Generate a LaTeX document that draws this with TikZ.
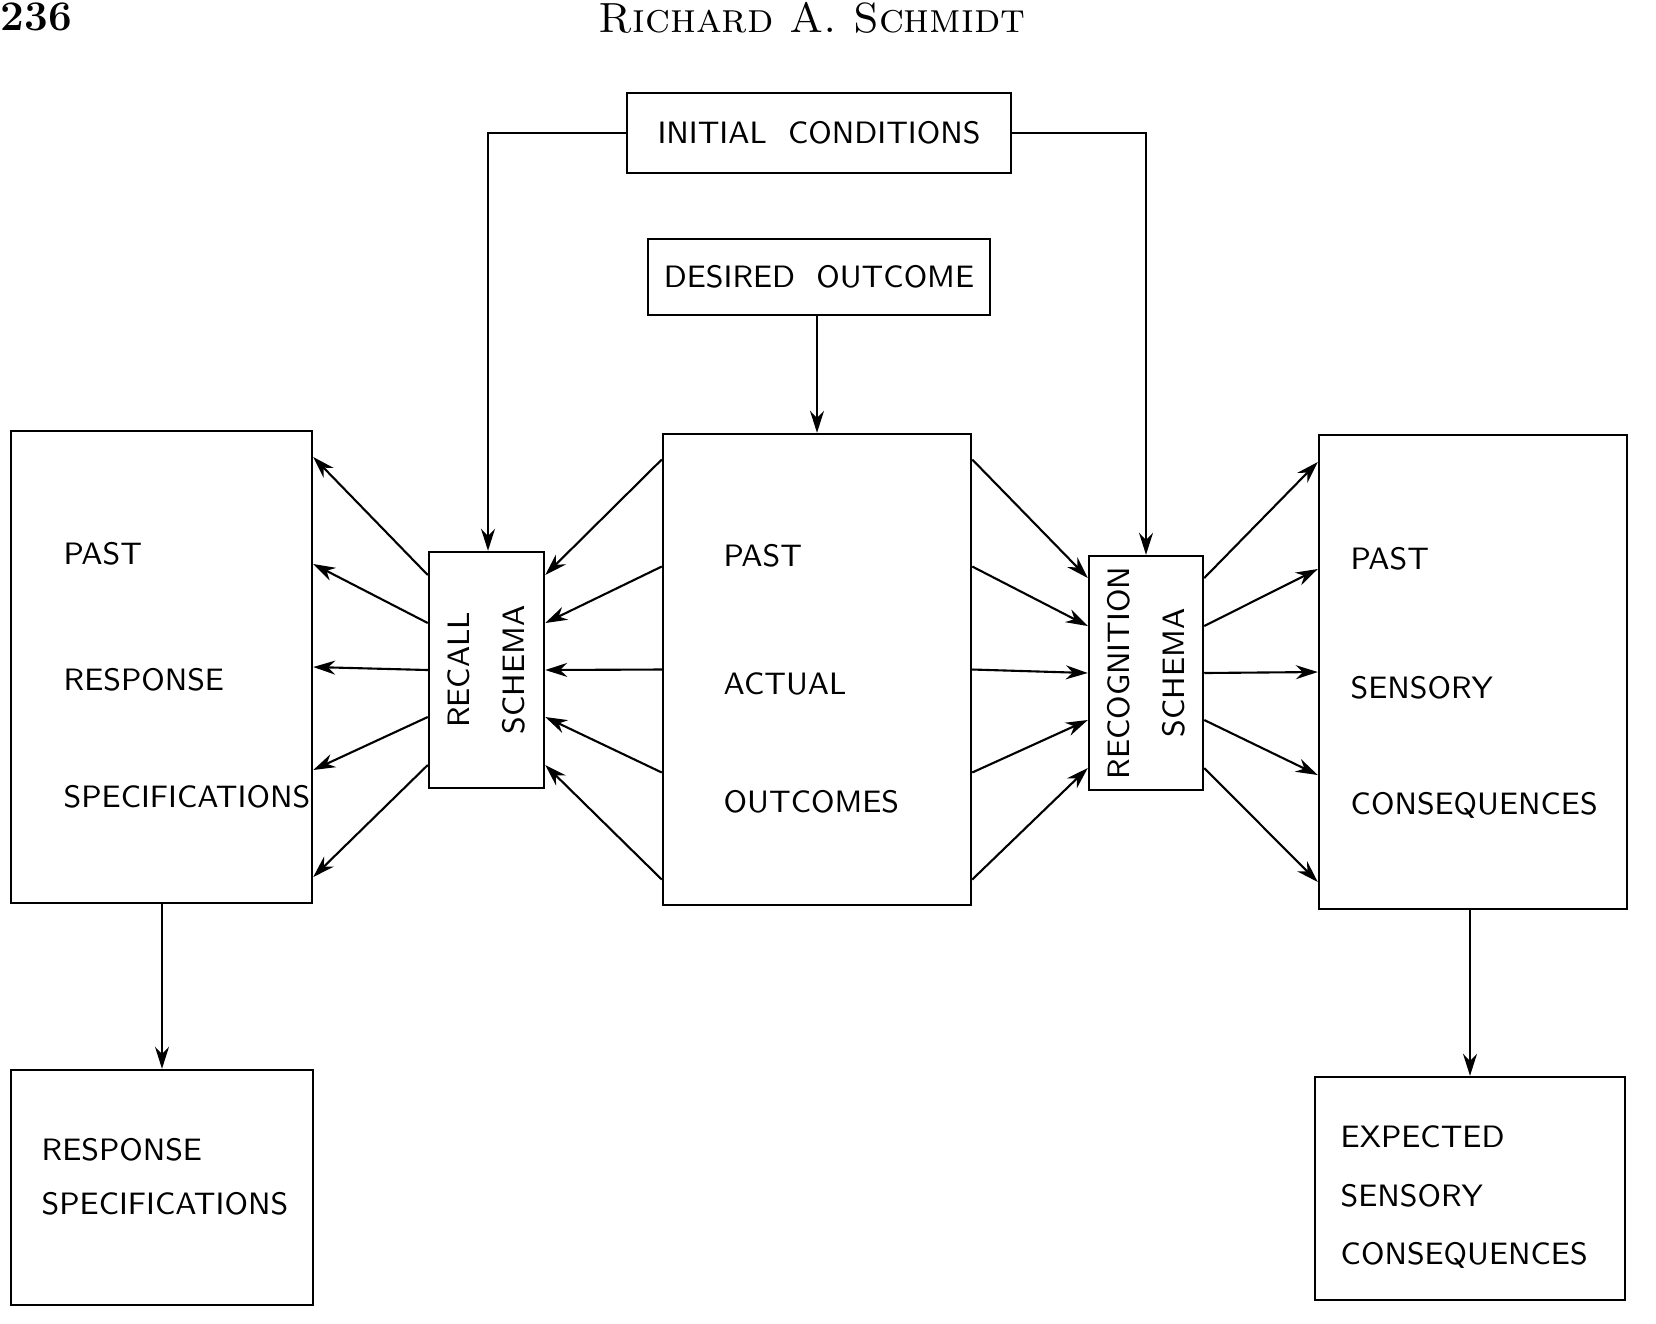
\documentclass[tikz,border=0pt]{standalone}
\usepackage{tikz}
\usetikzlibrary{arrows.meta}

\tikzset{
  box/.style={draw, line width=0.7pt, inner sep=0pt},
  lab/.style={font=\sffamily\fontsize{8.8}{10}\selectfont, anchor=west, inner sep=0pt},
  arr/.style={-{Stealth[length=2.2mm,width=1.4mm]}, line width=0.6pt}
}

\begin{document}
\begin{tikzpicture}[x=0.1mm, y=-0.1mm]
    \useasboundingbox (0,0) rectangle (1656,1323);
    % running head
    \node (pg) [anchor=north west, font=\bfseries\large, inner sep=0pt] at (0,2) {236};
    \node (hd) [anchor=north, font=\large\scshape, inner sep=0pt] at (812,2) {Richard A. Schmidt};

    % boxes
    \node (ic) [box, minimum width=38.4mm, minimum height=8mm] at (819,133) {};
    \node [lab, anchor=center] at (ic) {INITIAL\ \ CONDITIONS};
    \node (des) [box, minimum width=34.2mm, minimum height=7.6mm] at (819,277) {};
    \node [lab, anchor=center] at (des) {DESIRED\ \ OUTCOME};

    \node (lbox) [box, minimum width=30.1mm, minimum height=47.2mm] at (161.5,667) {};
    \node (l1) [lab] at (63,554) {PAST};
    \node (l2) [lab] at (63,680) {RESPONSE};
    \node (l3) [lab] at (63,797) {SPECIFICATIONS};

    \node (recall) [box, minimum width=11.5mm, minimum height=23.6mm] at (486.5,670) {};
    \node [lab, anchor=center, rotate=90, align=center] at (recall) {RECALL\\[2mm]SCHEMA};

    \node (ctr) [box, minimum width=30.8mm, minimum height=47.1mm] at (817,669.5) {};
    \node (c1) [lab] at (723,556) {PAST};
    \node (c2) [lab] at (723,684) {ACTUAL};
    \node (c3) [lab] at (723,802) {OUTCOMES};

    \node (recog) [box, minimum width=11.4mm, minimum height=23.4mm] at (1146,673) {};
    \node [lab, anchor=center, rotate=90, align=center] at (recog) {RECOGNITION\\[2mm]SCHEMA};

    \node (rbox) [box, minimum width=30.8mm, minimum height=47.4mm] at (1473,672) {};
    \node (r1) [lab] at (1350,559) {PAST};
    \node (r2) [lab] at (1350,688) {SENSORY};
    \node (r3) [lab] at (1350,805) {CONSEQUENCES};

    \node (resp) [box, minimum width=30.2mm, minimum height=23.5mm] at (162,1187.5) {};
    \node (s1) [lab] at (41,1150) {RESPONSE};
    \node (s2) [lab] at (41,1204) {SPECIFICATIONS};

    \node (expc) [box, minimum width=31mm, minimum height=22.3mm] at (1470,1188.5) {};
    \node (e1) [lab] at (1340,1137) {EXPECTED};
    \node (e2) [lab] at (1340,1196) {SENSORY};
    \node (e3) [lab] at (1340,1255) {CONSEQUENCES};

    % connectors
    \coordinate (kl) at (488,133);
    \coordinate (kr) at (1146,133);
    \draw[arr] (ic.west) -- (kl) -- (recall.north -| kl);
    \draw[arr] (ic.east) -- (kr) -- (recog.north);
    \draw[arr] (des.south -| ctr.north) -- (ctr.north);
    \draw[arr] (lbox.south -| resp.north) -- (resp.north);
    \draw[arr] (rbox.south -| expc.north) -- (expc.north);

    % fans
    \foreach \a/\b in {9.5/21, 4.7/10.3, 0/0, -4.7/-10.3, -9.5/-21} {
        \draw[arr] ([yshift=\a mm]recall.west) -- ([yshift=\b mm]lbox.east);
        \draw[arr] ([yshift=\b mm]ctr.west) -- ([yshift=\a mm]recall.east);
        \draw[arr] ([yshift=\b mm]ctr.east) -- ([yshift=\a mm]recog.west);
        \draw[arr] ([yshift=\a mm]recog.east) -- ([yshift=\b mm]rbox.west);
    }
\end{tikzpicture}
\end{document}
